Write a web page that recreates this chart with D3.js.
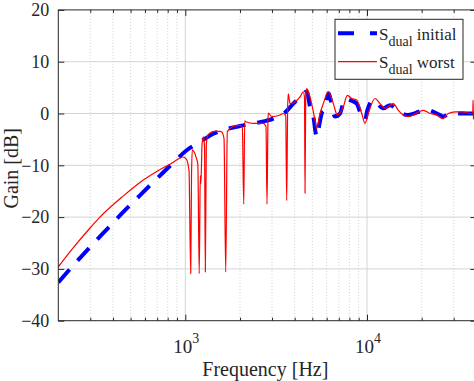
<!DOCTYPE html>
<html>
<head>
<meta charset="utf-8">
<script src="https://cdn.jsdelivr.net/npm/d3@7"></script>
<style>
  html, body { margin: 0; padding: 0; background: #fff; }
  svg { display: block; }
  text { font-family: "Liberation Serif", "Times New Roman", serif; fill: #262626; }
</style>
</head>
<body>
<svg id="chart" width="474" height="381"></svg>
<script>
// ---------------- data ----------------
// S_dual initial (blue dashed): frequency (Hz) and gain (dB)
const initialFreq = [200, 242, 299, 369, 456, 563, 696, 859, 1018, 1179, 1426, 1654, 2085, 2470, 3050, 3538, 3930, 4279, 4658, 4857, 5064, 5287, 5408, 5634, 5874, 6124, 6668, 7103, 7565, 8061, 8777, 9351, 9750, 10039, 10832, 12295, 13389, 15196, 16542, 19157, 20856, 25226, 26300, 28630, 35390, 40000];
const initialGain = [-32.6, -29.3, -25.8, -22.4, -19.0, -15.8, -12.6, -9.5, -7.1, -5.7, -3.9, -3.1, -2.3, -1.8, -1.0, 0.2, 1.9, 3.2, 4.2, 1.3, -0.6, -4.5, -3.0, 0.0, 1.0, 3.9, -0.6, 0.0, 2.9, 2.6, 1.9, -0.6, -1.3, 0.6, 2.6, 1.0, 1.6, 0.3, -0.3, 0.3, 0.8, -0.3, -0.6, 0.0, 0.0, 0.0];

// S_dual worst (red solid): frequency (Hz) and gain (dB)
const worstFreq = [200, 242, 299, 339, 456, 563, 696, 859, 935, 971, 1013, 1048, 1071, 1082, 1093, 1117, 1150, 1172, 1193, 1209, 1219, 1236, 1259, 1276, 1289, 1305, 1333, 1390, 1481, 1578, 1633, 1669, 1703, 1830, 1993, 2060, 2097, 2123, 2158, 2367, 2687, 2780, 2816, 2850, 2862, 2989, 3320, 3462, 3570, 3614, 3660, 3688, 3770, 4279, 4461, 4530, 4559, 4600, 4658, 4857, 5174, 5287, 5513, 5746, 6124, 6525, 6864, 7406, 7792, 8237, 8777, 9351, 9750, 10166, 11066, 11791, 12566, 13389, 13960, 14870, 15842, 16882, 17981, 19157, 20411, 22224, 24195, 26104, 28020, 30504, 33884, 36898, 38200, 38350, 38500, 38700, 40000];
const worstGain = [-29.6, -25.9, -22.1, -20.0, -15.9, -13.3, -11.2, -9.4, -8.6, -8.4, -8.8, -11.0, -30.9, -12.0, -7.0, -7.4, -8.6, -9.8, -30.9, -12.0, -13.5, -6.0, -4.5, -6.5, -30.6, -6.0, -4.1, -3.6, -3.4, -3.5, -4.8, -30.6, -3.5, -2.5, -2.3, -2.8, -17.5, -1.4, -1.6, -1.9, -1.9, -2.5, -17.5, -1.5, 0.1, -0.6, -0.3, 0.0, -0.5, -16.8, 1.5, 3.8, 1.9, 3.2, 4.2, 3.0, -15.4, 3.5, 4.8, 3.2, -1.3, -2.9, 0.0, 1.9, 4.2, 1.9, -0.3, 1.3, 3.5, 2.9, 2.6, 0.0, -1.9, 0.0, 2.9, 1.9, 1.0, 1.6, 1.9, 0.6, -0.3, -0.6, -0.3, 0.3, 0.6, 0.0, -0.3, -1.0, 0.0, 0.3, 0.3, 0.0, 0.0, 2.6, -1.1, 0.0, 0.0];

const xDomain = [200, 40000];
const yDomain = [-40, 20];
const yTickValues = [-40, -30, -20, -10, 0, 10, 20];
const xMajorTicks = [1000, 10000];
const xMajorLabels = ["3", "4"];
const xMinorTicks = [300, 400, 500, 600, 700, 800, 900, 2000, 3000, 4000, 5000, 6000, 7000, 8000, 9000, 20000, 30000];
const legendLabels = ["initial", "worst"];

// ---------------- layout ----------------
const svg = d3.select("#chart");
const L = 58.3, R = 476.4, T = 9.9, B = 320.7;
const x = d3.scaleLog().domain(xDomain).range([L, R]);
const y = d3.scaleLinear().domain(yDomain).range([B, T]);

svg.append("defs").append("clipPath").attr("id", "clip")
  .append("rect").attr("x", L).attr("y", T).attr("width", R - L).attr("height", B - T);

// grid
const grid = svg.append("g");
grid.selectAll(".ygrid").data(yTickValues.slice(1, -1)).enter().append("line")
  .attr("x1", L).attr("x2", R).attr("y1", d => y(d)).attr("y2", d => y(d))
  .attr("stroke", "#d4d4d4").attr("stroke-width", 1);
grid.selectAll(".xgrid").data(xMajorTicks).enter().append("line")
  .attr("x1", d => x(d)).attr("x2", d => x(d)).attr("y1", T).attr("y2", B)
  .attr("stroke", "#d4d4d4").attr("stroke-width", 1);
grid.selectAll(".xminor").data(xMinorTicks).enter().append("line")
  .attr("x1", d => x(d)).attr("x2", d => x(d)).attr("y1", T).attr("y2", B)
  .attr("stroke", "#d0d0d0").attr("stroke-width", 1).attr("stroke-dasharray", "1,2");

// lines
const line = d3.line().x(d => x(d[0])).y(d => y(d[1])).curve(d3.curveMonotoneX);
const plot = svg.append("g").attr("clip-path", "url(#clip)");
plot.append("path").datum(d3.zip(initialFreq, initialGain))
  .attr("d", line).attr("fill", "none").attr("stroke", "#0000ff")
  .attr("stroke-width", 4).attr("stroke-dasharray", "17,12");
plot.append("path").datum(d3.zip(worstFreq, worstGain))
  .attr("d", line).attr("fill", "none").attr("stroke", "#ff0000")
  .attr("stroke-width", 1.2).attr("stroke-linejoin", "round");

// axes box with inward ticks
const axisColor = "#262626";
const ax = svg.append("g");
const yAxL = d3.axisLeft(y).tickValues(yTickValues).tickSize(-6).tickPadding(9).tickFormat(d3.format("d"));
const gL = ax.append("g").attr("transform", `translate(${L},0)`).call(yAxL);
const gR = ax.append("g").attr("transform", `translate(${R},0)`).call(d3.axisRight(y).tickValues(yTickValues).tickSize(-6).tickFormat(""));
const gB = ax.append("g").attr("transform", `translate(0,${B})`).call(d3.axisBottom(x).tickValues(xMajorTicks).tickSize(-6).tickFormat(""));
const gBm = ax.append("g").attr("transform", `translate(0,${B})`).call(d3.axisBottom(x).tickValues(xMinorTicks).tickSize(-3).tickFormat(""));
const gT = ax.append("g").attr("transform", `translate(0,${T})`).call(d3.axisTop(x).tickValues(xMajorTicks).tickSize(-6).tickFormat(""));
const gTm = ax.append("g").attr("transform", `translate(0,${T})`).call(d3.axisTop(x).tickValues(xMinorTicks).tickSize(-3).tickFormat(""));
[gL, gR, gB, gBm, gT, gTm].forEach(g => {
  g.select(".domain").remove();
  g.selectAll("line").attr("stroke", axisColor);
});
gL.selectAll("text").attr("font-size", 18).attr("font-family", "Liberation Serif").attr("fill", axisColor);
ax.append("rect").attr("x", L).attr("y", T).attr("width", R - L).attr("height", B - T)
  .attr("fill", "none").attr("stroke", axisColor).attr("stroke-width", 1);

// x tick labels 10^n
xMajorTicks.forEach((v, i) => {
  const t = svg.append("text").attr("x", x(v) + 1).attr("y", 352.7)
    .attr("text-anchor", "middle").attr("font-size", 19);
  t.append("tspan").text("10");
  t.append("tspan").attr("dy", -10).attr("font-size", 14).text(xMajorLabels[i]);
});

// axis labels
svg.append("text").attr("x", (L + R) / 2 - 2).attr("y", 376).attr("text-anchor", "middle")
  .attr("font-size", 20).text("Frequency [Hz]");
svg.append("text").attr("transform", `translate(18,${(T + B) / 2 + 3}) rotate(-90)`)
  .attr("text-anchor", "middle").attr("font-size", 20).text("Gain [dB]");

// legend
const lg = svg.append("g");
lg.append("rect").attr("x", 335).attr("y", 19.3).attr("width", 128).attr("height", 60)
  .attr("fill", "#fff").attr("stroke", axisColor).attr("stroke-width", 1);
const legendStyles = [
  {stroke: "#0000ff", width: 4, dash: "16,16"},
  {stroke: "#ff0000", width: 1.2, dash: null}
];
legendLabels.forEach((lab, i) => {
  const cy = 33.3 + i * 28.4;
  lg.append("line").attr("x1", 338).attr("x2", 377).attr("y1", cy).attr("y2", cy)
    .attr("stroke", legendStyles[i].stroke).attr("stroke-width", legendStyles[i].width)
    .attr("stroke-dasharray", legendStyles[i].dash);
  const t = lg.append("text").attr("x", 379).attr("y", cy + 6.2).attr("font-size", 17);
  t.append("tspan").text("S");
  t.append("tspan").attr("dy", 6).attr("font-size", 14).text("dual");
  t.append("tspan").attr("dy", -6).attr("font-size", 17).text(" " + lab);
});
</script>
</body>
</html>
